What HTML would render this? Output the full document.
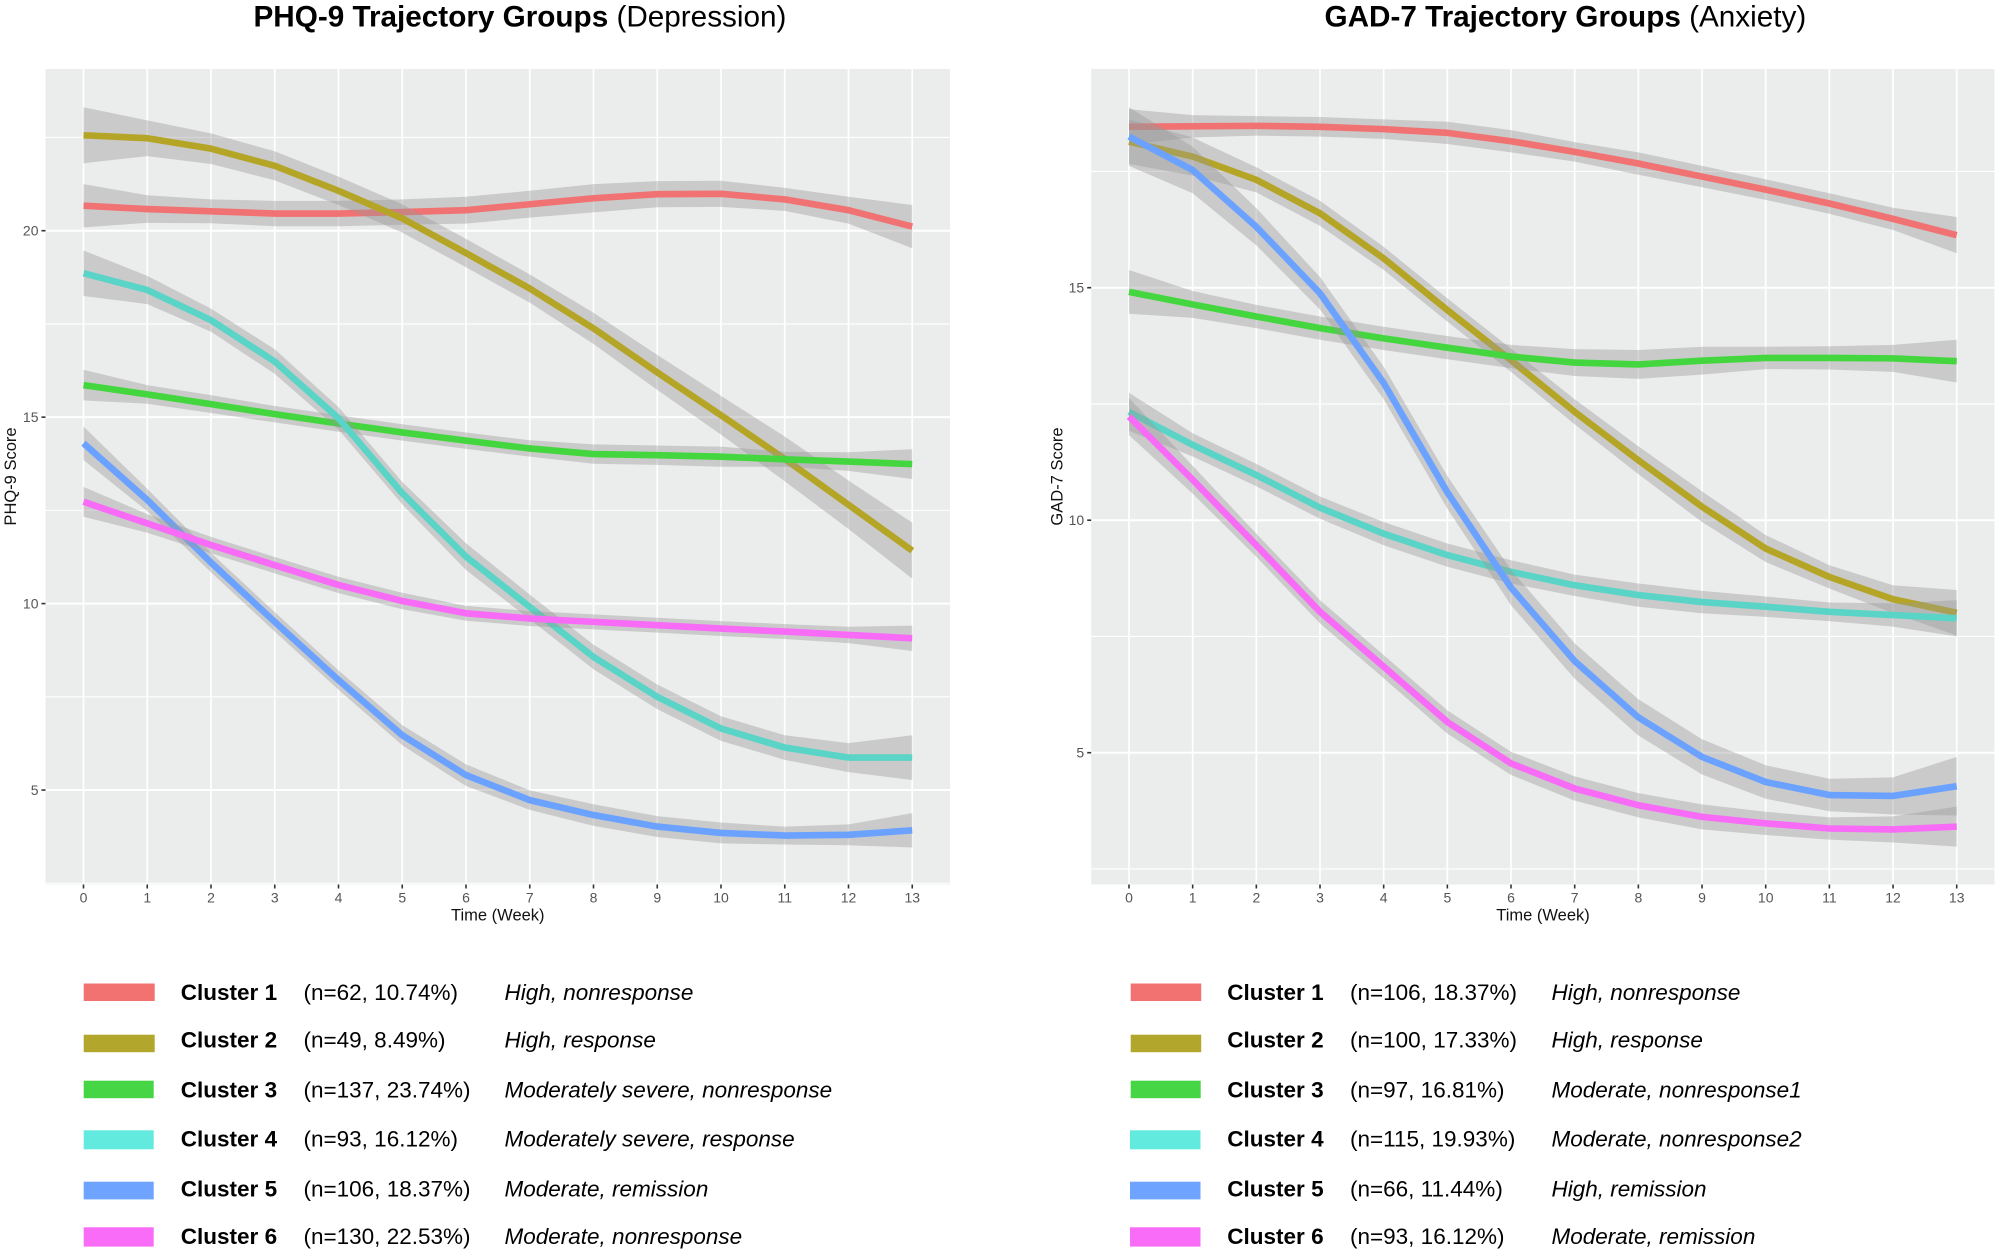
<!DOCTYPE html>
<html lang="en">
<head>
<meta charset="utf-8">
<title>PHQ-9 and GAD-7 Trajectory Groups</title>
<style>
html,body{margin:0;padding:0;background:#fff;width:2000px;height:1256px;overflow:hidden}
svg{display:block;font-family:"Liberation Sans",sans-serif}
.title{font-size:29.7px;fill:#000}
.leg{font-size:22.5px;fill:#000}
.tick{font-size:14px;fill:#555}
.axt{font-size:16.5px;fill:#111}
</style>
</head>
<body>
<svg id="chart" xmlns="http://www.w3.org/2000/svg" width="2000" height="1256" viewBox="0 0 2000 1256">
  <text class="title" x="253.5" y="26.7"><tspan font-weight="bold">PHQ-9 Trajectory Groups</tspan> (Depression)</text>
  <text class="title" x="1324.5" y="26.7"><tspan font-weight="bold">GAD-7 Trajectory Groups</tspan> (Anxiety)</text>
  <g id="panel-left"></g>
  <g id="panel-right"></g>

  <g>
    <g><rect x="83.7" y="983.5" width="71" height="17.5" fill="#f27272"/><text class="leg" x="180.8" y="1000" font-weight="bold">Cluster 1</text><text class="leg" x="303.5" y="1000">(n=62, 10.74%)</text><text class="leg" x="504.5" y="1000" font-style="italic">High, nonresponse</text></g>
    <g><rect x="83.7" y="1034.7" width="71" height="17.5" fill="#b3a62d"/><text class="leg" x="180.8" y="1047.3" font-weight="bold">Cluster 2</text><text class="leg" x="303.5" y="1047.3">(n=49, 8.49%)</text><text class="leg" x="504.5" y="1047.3" font-style="italic">High, response</text></g>
    <g><rect x="83.7" y="1080.7" width="70" height="17.5" fill="#45d545"/><text class="leg" x="180.8" y="1097.3" font-weight="bold">Cluster 3</text><text class="leg" x="303.5" y="1097.3">(n=137, 23.74%)</text><text class="leg" x="504.5" y="1097.3" font-style="italic">Moderately severe, nonresponse</text></g>
    <g><rect x="83.7" y="1130.3" width="70" height="19" fill="#62eadf"/><text class="leg" x="180.8" y="1146.7" font-weight="bold">Cluster 4</text><text class="leg" x="303.5" y="1146.7">(n=93, 16.12%)</text><text class="leg" x="504.5" y="1146.7" font-style="italic">Moderately severe, response</text></g>
    <g><rect x="83.7" y="1181.7" width="70" height="17.7" fill="#6ea3ff"/><text class="leg" x="180.8" y="1196.7" font-weight="bold">Cluster 5</text><text class="leg" x="303.5" y="1196.7">(n=106, 18.37%)</text><text class="leg" x="504.5" y="1196.7" font-style="italic">Moderate, remission</text></g>
    <g><rect x="83.7" y="1227.3" width="70" height="19.3" fill="#f96cf7"/><text class="leg" x="180.8" y="1244" font-weight="bold">Cluster 6</text><text class="leg" x="303.5" y="1244">(n=130, 22.53%)</text><text class="leg" x="504.5" y="1244" font-style="italic">Moderate, nonresponse</text></g>
  </g>

  <g>
    <g><rect x="1130.7" y="983.5" width="70.5" height="17.5" fill="#f27272"/><text class="leg" x="1227.3" y="1000" font-weight="bold">Cluster 1</text><text class="leg" x="1350" y="1000">(n=106, 18.37%)</text><text class="leg" x="1551.5" y="1000" font-style="italic">High, nonresponse</text></g>
    <g><rect x="1130.7" y="1034.7" width="70.5" height="17.5" fill="#b3a62d"/><text class="leg" x="1227.3" y="1047.3" font-weight="bold">Cluster 2</text><text class="leg" x="1350" y="1047.3">(n=100, 17.33%)</text><text class="leg" x="1551.5" y="1047.3" font-style="italic">High, response</text></g>
    <g><rect x="1130.7" y="1080.7" width="70" height="17.5" fill="#45d545"/><text class="leg" x="1227.3" y="1097.3" font-weight="bold">Cluster 3</text><text class="leg" x="1350" y="1097.3">(n=97, 16.81%)</text><text class="leg" x="1551.5" y="1097.3" font-style="italic">Moderate, nonresponse1</text></g>
    <g><rect x="1130" y="1130.3" width="70.5" height="19" fill="#62eadf"/><text class="leg" x="1227.3" y="1146.7" font-weight="bold">Cluster 4</text><text class="leg" x="1350" y="1146.7">(n=115, 19.93%)</text><text class="leg" x="1551.5" y="1146.7" font-style="italic">Moderate, nonresponse2</text></g>
    <g><rect x="1130" y="1181.7" width="70.5" height="17.7" fill="#6ea3ff"/><text class="leg" x="1227.3" y="1196.7" font-weight="bold">Cluster 5</text><text class="leg" x="1350" y="1196.7">(n=66, 11.44%)</text><text class="leg" x="1551.5" y="1196.7" font-style="italic">High, remission</text></g>
    <g><rect x="1130" y="1227.3" width="70.5" height="19.3" fill="#f96cf7"/><text class="leg" x="1227.3" y="1244" font-weight="bold">Cluster 6</text><text class="leg" x="1350" y="1244">(n=93, 16.12%)</text><text class="leg" x="1551.5" y="1244" font-style="italic">Moderate, remission</text></g>
  </g>
</svg>

<script>
const weeks = [0,1,2,3,4,5,6,7,8,9,10,11,12,13];
const clusterNames = ['cluster-1','cluster-2','cluster-3','cluster-4','cluster-5','cluster-6'];
const clusterColors = ['#f17272','#b5a527','#44d63f','#5ad4c6','#6ba2ff','#f76bf6'];

const phqMajorTicks = [5,10,15,20];
const phqMinorTicks = [2.5,7.5,12.5,17.5,22.5];
const gadMajorTicks = [5,10,15];
const gadMinorTicks = [2.5,7.5,12.5,17.5];

const phqCluster1 = [20.67,20.58,20.52,20.46,20.46,20.50,20.55,20.71,20.87,20.98,20.99,20.84,20.55,20.11];
const phqCluster2 = [22.56,22.48,22.20,21.74,21.07,20.33,19.40,18.45,17.38,16.20,15.05,13.88,12.65,11.42];
const phqCluster3 = [15.86,15.61,15.35,15.08,14.83,14.59,14.37,14.16,14.01,13.98,13.94,13.87,13.81,13.74];
const phqCluster4 = [18.86,18.41,17.60,16.49,14.97,12.96,11.26,9.91,8.57,7.50,6.65,6.14,5.87,5.87];
const phqCluster5 = [14.30,12.78,11.10,9.51,7.95,6.47,5.40,4.73,4.33,4.02,3.85,3.78,3.80,3.92];
const phqCluster6 = [12.73,12.15,11.57,11.03,10.50,10.07,9.74,9.60,9.51,9.42,9.33,9.25,9.16,9.07];

const phqBand1 = [.58,.37,.32,.34,.34,.34,.36,.36,.38,.35,.35,.31,.36,.58];
const phqBand2 = [.75,.48,.41,.39,.38,.38,.38,.38,.42,.47,.52,.60,.65,.75];
const phqBand3 = [.41,.25,.24,.22,.22,.22,.22,.22,.26,.26,.27,.20,.25,.40];
const phqBand4 = [.61,.38,.31,.33,.30,.30,.36,.33,.33,.33,.33,.33,.39,.60];
const phqBand5 = [.45,.30,.26,.26,.26,.27,.29,.26,.29,.28,.28,.24,.28,.46];
const phqBand6 = [.40,.25,.22,.22,.22,.22,.20,.20,.20,.20,.20,.20,.22,.34];

const gadCluster1 = [18.46,18.47,18.48,18.46,18.41,18.33,18.15,17.92,17.67,17.39,17.11,16.81,16.48,16.13];
const gadCluster2 = [18.14,17.82,17.32,16.60,15.63,14.52,13.44,12.33,11.29,10.29,9.39,8.78,8.30,8.01];
const gadCluster3 = [14.91,14.64,14.38,14.13,13.91,13.71,13.52,13.39,13.35,13.43,13.49,13.49,13.48,13.42];
const gadCluster4 = [12.33,11.62,10.97,10.27,9.71,9.25,8.89,8.60,8.39,8.24,8.14,8.03,7.96,7.89];
const gadCluster5 = [18.25,17.53,16.31,14.88,12.95,10.60,8.55,6.97,5.76,4.91,4.37,4.09,4.07,4.28];
const gadCluster6 = [12.23,10.87,9.46,8.03,6.85,5.66,4.77,4.23,3.87,3.62,3.48,3.37,3.35,3.41];

const gadBand1 = [.38,.24,.21,.21,.21,.24,.24,.21,.24,.23,.22,.22,.24,.39];
const gadBand2 = [.48,.41,.27,.27,.25,.25,.25,.27,.30,.33,.29,.25,.30,.49];
const gadBand3 = [.47,.29,.25,.25,.25,.25,.25,.29,.31,.30,.24,.25,.29,.46];
const gadBand4 = [.41,.25,.24,.24,.25,.25,.25,.23,.25,.24,.22,.20,.25,.39];
const gadBand5 = [.63,.50,.40,.35,.35,.35,.38,.38,.39,.38,.36,.35,.40,.63];
const gadBand6 = [.40,.30,.25,.25,.25,.25,.25,.26,.26,.27,.25,.24,.28,.43];

const phqSeries = [phqCluster1,phqCluster2,phqCluster3,phqCluster4,phqCluster5,phqCluster6];
const phqBands = [phqBand1,phqBand2,phqBand3,phqBand4,phqBand5,phqBand6];
const gadSeries = [gadCluster1,gadCluster2,gadCluster3,gadCluster4,gadCluster5,gadCluster6];
const gadBands = [gadBand1,gadBand2,gadBand3,gadBand4,gadBand5,gadBand6];

const NS = 'http://www.w3.org/2000/svg';
function mk(tag, parent){
  const el = document.createElementNS(NS, tag);
  parent.appendChild(el);
  return el;
}
function gridLine(parent, x1, y1, x2, y2, w, name){
  const l = mk('line', parent);
  
  
  l.setAttribute('x1', x1);
  l.setAttribute('y1', y1);
  l.setAttribute('x2', x2);
  l.setAttribute('y2', y2);
  l.setAttribute('stroke', w.color || '#fff');
  l.setAttribute('stroke-width', w.width);
}
function label(parent, x, y, txt, cls, anchor, name){
  const t = mk('text', parent);
  
  
  t.setAttribute('class', cls);
  t.setAttribute('x', x);
  t.setAttribute('y', y);
  t.setAttribute('text-anchor', anchor);
  t.textContent = txt;
  return t;
}
function drawPanel(root, geo, majors, minors, series, bands, yTitle, prefix){
  const xScale = w => geo.x0 + w * geo.xk;
  const yScale = v => geo.yRef - (v - geo.vRef) * geo.yk;

  const bg = mk('rect', root);
  
  
  bg.setAttribute('x', geo.left);
  bg.setAttribute('y', geo.top);
  bg.setAttribute('width', geo.right - geo.left);
  bg.setAttribute('height', geo.bottom - geo.top);
  bg.setAttribute('fill', '#ebecec');

  minors.forEach(v => gridLine(root, geo.left, yScale(v), geo.right, yScale(v), {width:1.1}, prefix + '-minor-gridline'));
  majors.forEach(v => gridLine(root, geo.left, yScale(v), geo.right, yScale(v), {width:2}, prefix + '-major-gridline'));
  weeks.forEach(w => gridLine(root, xScale(w), geo.top, xScale(w), geo.bottom, {width:1.7}, prefix + '-vertical-gridline'));

  majors.forEach(v => {
    gridLine(root, geo.left - 4, yScale(v), geo.left, yScale(v), {width:1.6, color:'#333'}, prefix + '-y-tick');
    label(root, geo.left - 7, yScale(v) + 5, String(v), 'tick', 'end', prefix + '-y-tick-label');
  });
  weeks.forEach(w => {
    gridLine(root, xScale(w), geo.bottom, xScale(w), geo.bottom + 4, {width:1.6, color:'#333'}, prefix + '-x-tick');
    label(root, xScale(w), geo.bottom + 18, String(w), 'tick', 'middle', prefix + '-x-tick-label');
  });

  label(root, geo.xTitleX, 920.5, 'Time (Week)', 'axt', 'middle', prefix + '-x-axis-title');
  const yt = label(root, 0, 0, yTitle, 'axt', 'middle', prefix + '-y-axis-title');
  yt.setAttribute('transform', 'translate(' + geo.yTitleX + ',476.5) rotate(-90)');

  series.forEach((vals, i) => {
    const up = vals.map((v, k) => xScale(weeks[k]) + ',' + yScale(v + bands[i][k]));
    const lo = vals.map((v, k) => xScale(weeks[k]) + ',' + yScale(v - bands[i][k])).reverse();
    const rib = mk('polygon', root);
    
    
    rib.setAttribute('points', up.concat(lo).join(' '));
    rib.setAttribute('fill', '#999999');
    rib.setAttribute('fill-opacity', '0.4');

    const line = mk('polyline', root);
    
    
    line.setAttribute('points', vals.map((v, k) => xScale(weeks[k]) + ',' + yScale(v)).join(' '));
    line.setAttribute('fill', 'none');
    line.setAttribute('stroke', clusterColors[i]);
    line.setAttribute('stroke-width', '6.6');
    line.setAttribute('stroke-linejoin', 'round');
    line.setAttribute('stroke-linecap', 'butt');
  });
}

drawPanel(document.getElementById('panel-left'),
  {left:45.5,right:950,top:69,bottom:884.5,x0:83.5,xk:63.75,yRef:230.7,vRef:20,yk:37.29,xTitleX:497.8,yTitleX:15.8},
  phqMajorTicks, phqMinorTicks, phqSeries, phqBands, 'PHQ-9 Score', 'phq9');
drawPanel(document.getElementById('panel-right'),
  {left:1091.2,right:1994.5,top:69,bottom:884.5,x0:1129,xk:63.67,yRef:287.7,vRef:15,yk:46.5,xTitleX:1543,yTitleX:1062.5},
  gadMajorTicks, gadMinorTicks, gadSeries, gadBands, 'GAD-7 Score', 'gad7');
</script>
</body>
</html>
